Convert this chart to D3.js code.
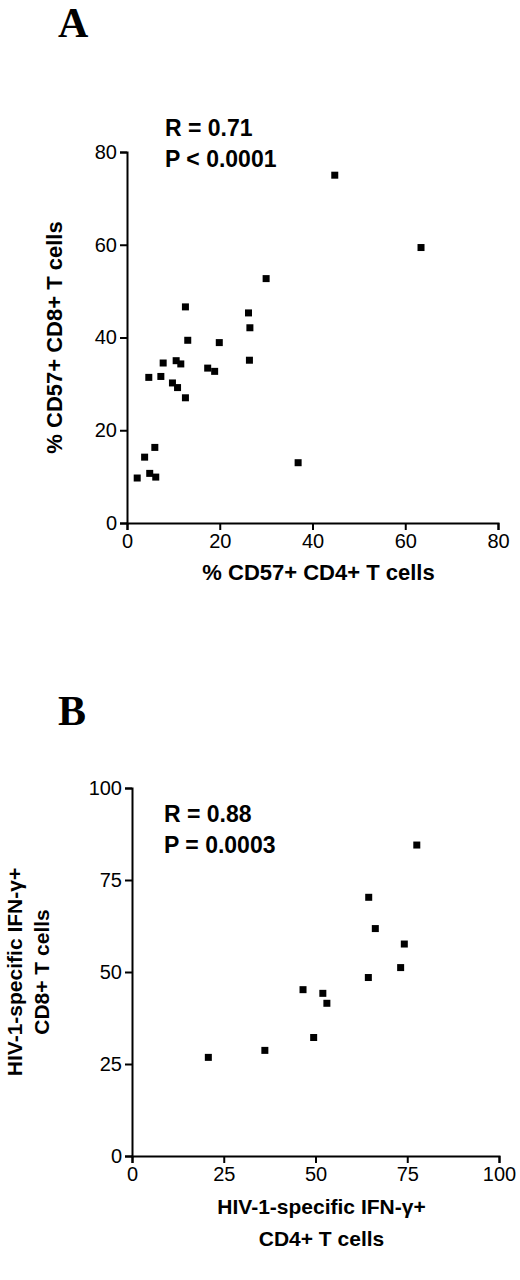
<!DOCTYPE html>
<html><head><meta charset="utf-8">
<script src="https://cdnjs.cloudflare.com/ajax/libs/d3/7.8.5/d3.min.js"></script>
<style>body{margin:0;background:#fff}</style>
</head><body><svg id="c" width="520" height="1280" font-family="Arial, 'Liberation Sans', sans-serif"></svg>
<script>
const aX=[44.8,63.4,30.0,12.6,26.2,26.5,13.1,19.9,26.4,7.8,10.6,11.6,17.4,18.9,4.7,7.3,9.8,10.9,12.6,6.0,3.8,36.9,4.9,6.2,2.2];
const aY=[75.0,59.4,52.7,46.6,45.3,42.1,39.4,38.9,35.1,34.5,35.0,34.3,33.4,32.7,31.4,31.6,30.2,29.2,27.0,16.3,14.2,13.0,10.7,9.9,9.7];
const aTicks=[0,20,40,60,80];
const bX=[77.6,64.5,66.3,74.2,73.2,64.4,46.6,52.0,53.1,49.5,36.2,20.8];
const bY=[84.5,70.3,61.8,57.6,51.2,48.5,45.2,44.2,41.5,32.2,28.7,26.8];
const bTicks=[0,25,50,75,100];
const svg=d3.select("#c");
function panel(o){
  const x=d3.scaleLinear().domain(o.dom).range([o.x0,o.x1]);
  const y=d3.scaleLinear().domain(o.dom).range([o.y1,o.y0]);
  const g=svg.append("g");
  const ax=g.append("g").attr("transform",`translate(0,${o.y1})`).call(d3.axisBottom(x).tickValues(o.ticks).tickSize(7).tickPadding(4));
  const ay=g.append("g").attr("transform",`translate(${o.x0},0)`).call(d3.axisLeft(y).tickValues(o.ticks).tickSize(7).tickPadding(3));
  [ax,ay].forEach(a=>{a.attr("font-family",null);a.select(".domain").attr("stroke-width",2);a.selectAll(".tick line").attr("stroke-width",2);a.selectAll("text").attr("font-size",20).attr("fill","#000");});
  g.selectAll("rect.p").data(o.xs).enter().append("rect").attr("x",(d)=>x(d)-3.5).attr("y",(d,i)=>y(o.ys[i])-3.5).attr("width",7).attr("height",7).attr("fill","#000");
  o.stats.forEach((s,i)=>g.append("text").attr("x",o.sx).attr("y",o.sy+i*31).attr("font-size",23).attr("font-weight","bold").text(s));
  g.append("text").attr("x",o.lx).attr("y",o.ly).style("font-family","'Liberation Serif', 'DejaVu Serif', serif").attr("font-weight","bold").attr("font-size",42).text(o.letter);
  o.xl.forEach((s,i)=>g.append("text").attr("x",(o.x0+o.x1)/2+6).attr("y",o.xly+i*32).attr("text-anchor","middle").attr("font-size",o.fs).attr("font-weight","bold").text(s));
  o.yl.forEach((s,i)=>g.append("text").attr("transform",`translate(${o.ylx+i*27},${(o.y0+o.y1)/2}) rotate(-90)`).attr("text-anchor","middle").attr("font-size",o.fs).attr("font-weight","bold").text(s));
}
panel({dom:[0,80],ticks:aTicks,x0:127,x1:498,y0:152,y1:523,xs:aX,ys:aY,stats:["R = 0.71","P < 0.0001"],sx:165,sy:136,letter:"A",lx:58,ly:37,xl:["% CD57+ CD4+ T cells"],xly:580,yl:["% CD57+ CD8+ T cells"],ylx:62,fs:22});
panel({dom:[0,100],ticks:bTicks,x0:132,x1:499,y0:788,y1:1156,xs:bX,ys:bY,stats:["R = 0.88","P = 0.0003"],sx:164,sy:822,letter:"B",lx:58,ly:725,xl:["HIV-1-specific IFN-γ+","CD4+ T cells"],xly:1214,yl:["HIV-1-specific IFN-γ+","CD8+ T cells"],ylx:22,fs:21});
</script></body></html>
